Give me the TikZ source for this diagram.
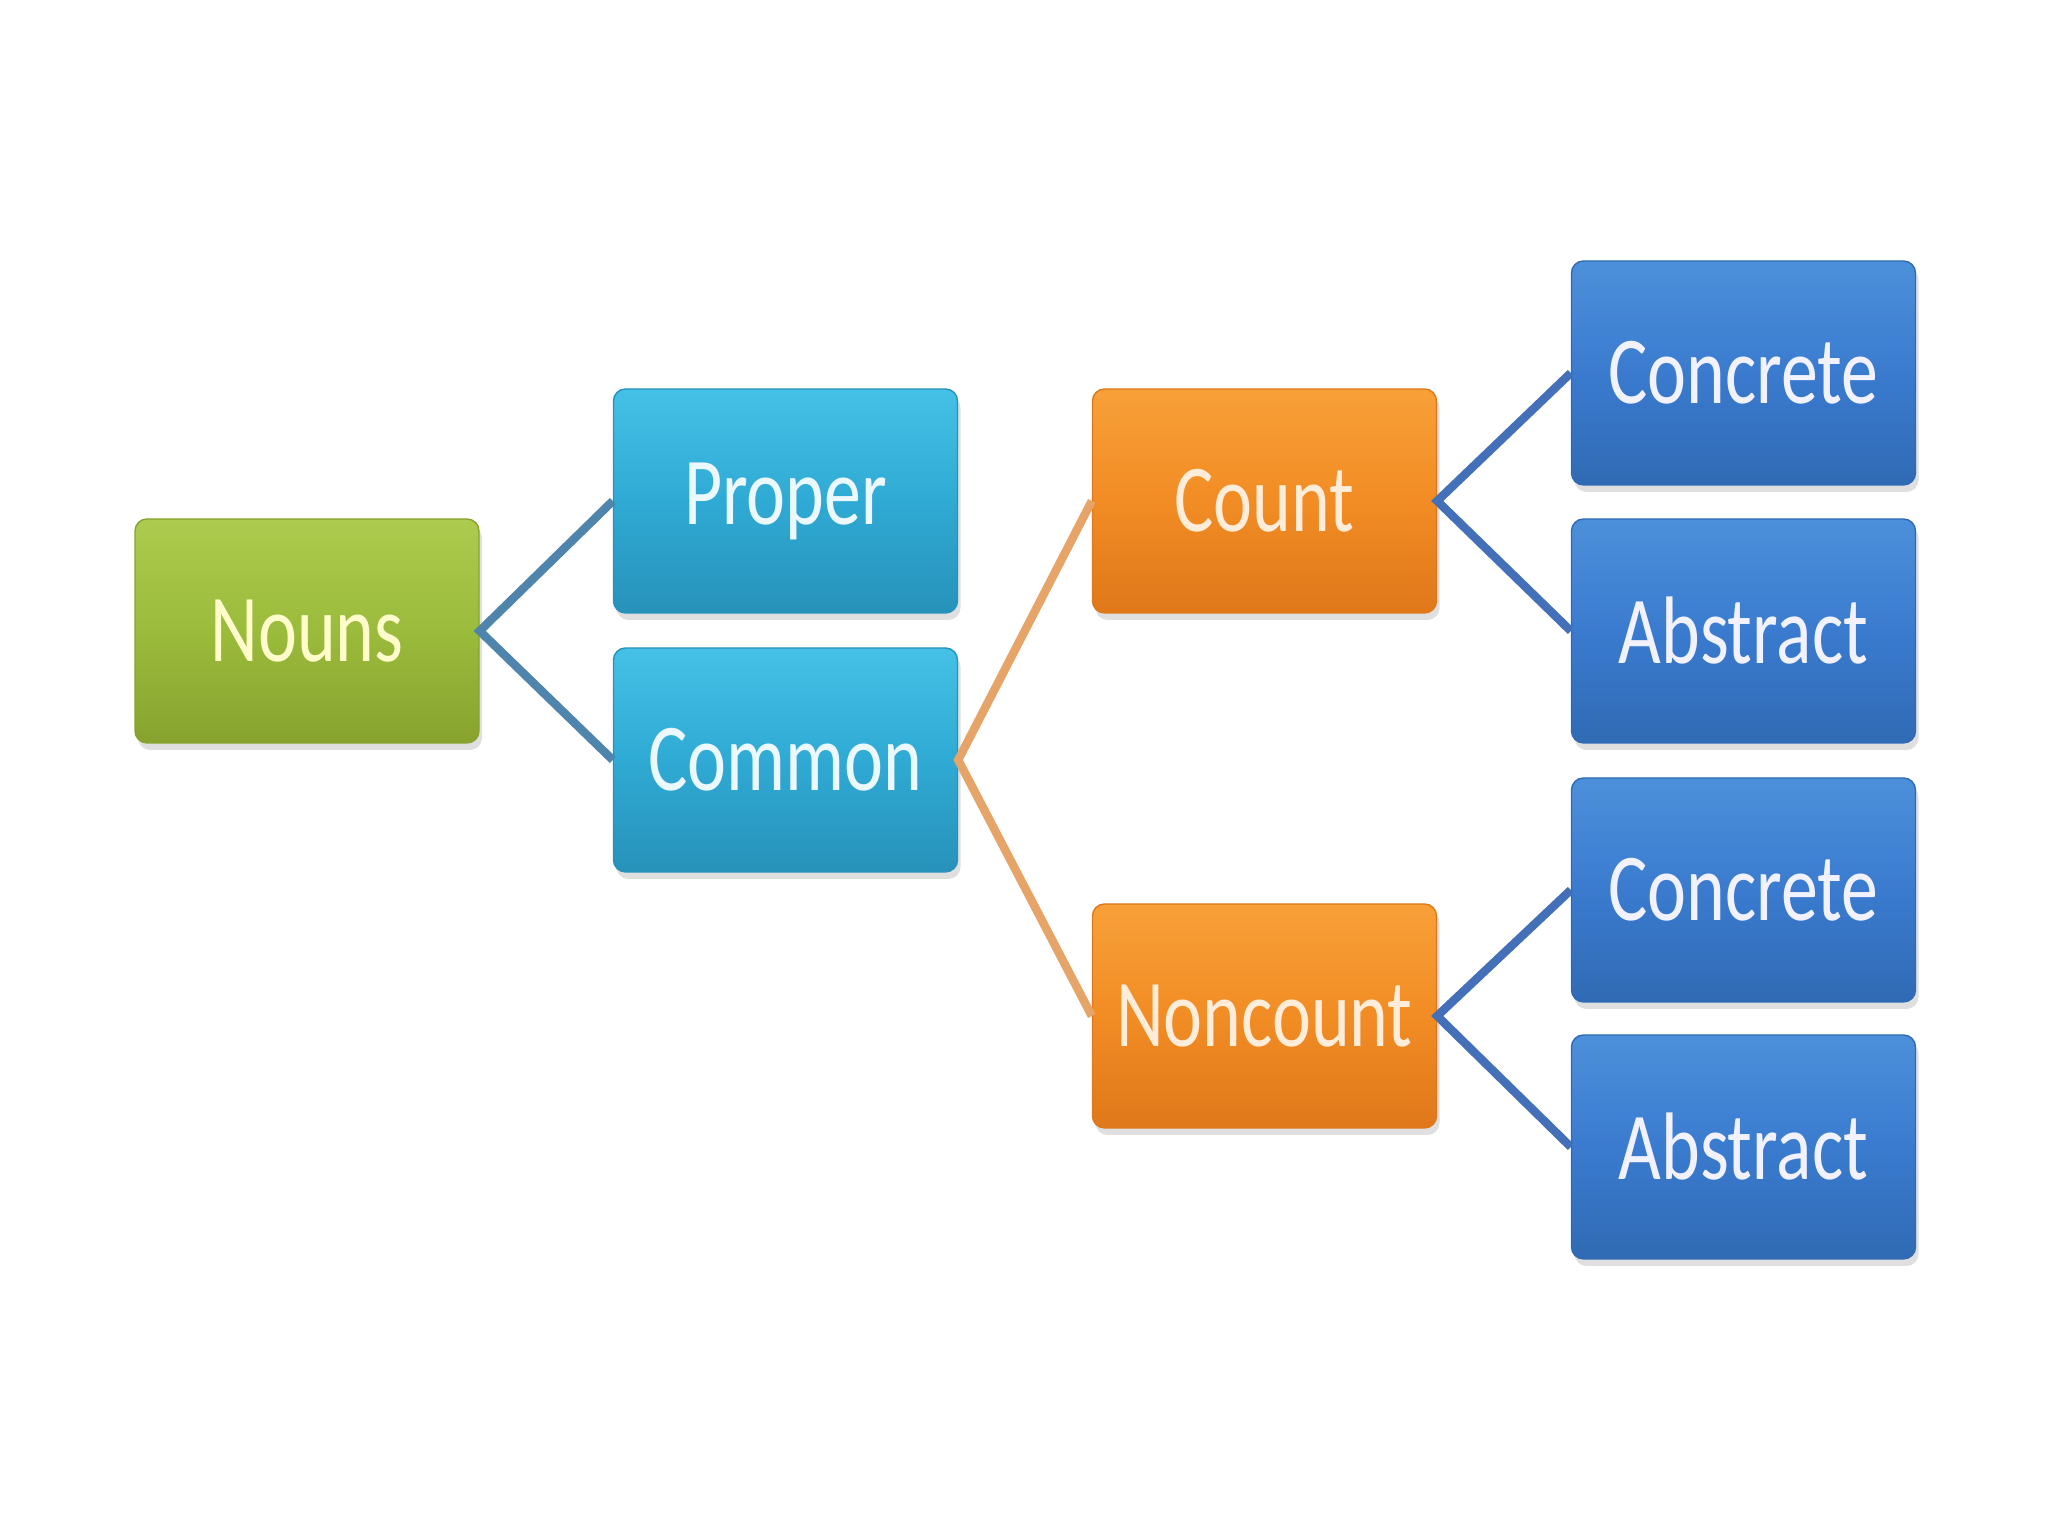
\documentclass[tikz,border=0pt]{standalone}
\usepackage{fontspec}
\setmainfont{Carlito}
\usetikzlibrary{shadows}

\definecolor{verde}{HTML}{9BBB3C}
\definecolor{verdeclaro}{HTML}{ADCB4E}
\definecolor{verdeescuro}{HTML}{87A32E}
\definecolor{ciano}{HTML}{2FAAD4}
\definecolor{cianoclaro}{HTML}{45C0E6}
\definecolor{cianoescuro}{HTML}{2792BA}
\definecolor{laranja}{HTML}{F28C24}
\definecolor{laranjaclaro}{HTML}{F8A038}
\definecolor{laranjaescuro}{HTML}{DE781A}
\definecolor{azul}{HTML}{3A7BCF}
\definecolor{azulclaro}{HTML}{4C90DA}
\definecolor{azulescuro}{HTML}{306AB4}
\definecolor{linhaazul}{HTML}{4F84AC}
\definecolor{linhalaranja}{HTML}{E6A468}

\newcommand{\rotulo}[1]{\scalebox{1}[1.3]{#1}}

\tikzset{
  caixa/.style={rectangle, rounded corners=0.12cm, minimum width=3.44cm,
    minimum height=2.24cm, inner sep=0pt, font=\fontsize{21}{24}\selectfont,
    drop shadow={shadow xshift=0.03cm, shadow yshift=-0.07cm, opacity=0.25}},
  caixaverde/.style={caixa, top color=verdeclaro, bottom color=verdeescuro,
    middle color=verde, draw=verdeescuro, text=yellow!20},
  caixaciano/.style={caixa, top color=cianoclaro, bottom color=cianoescuro,
    middle color=ciano, draw=cianoescuro, text=cyan!8},
  caixalaranja/.style={caixa, top color=laranjaclaro, bottom color=laranjaescuro,
    middle color=laranja, draw=laranjaescuro, text=orange!15},
  caixaazul/.style={caixa, top color=azulclaro, bottom color=azulescuro,
    middle color=azul, draw=azulescuro, text=blue!5},
  ligacao/.style={line width=2.4pt}
}

\begin{document}
\begin{tikzpicture}

  % Fundo
  \fill[white] (0,0) rectangle (20.48,15.36);
  \useasboundingbox (0,0) rectangle (20.48,15.36);

  % Raiz
  \node[caixaverde] (nouns) at (3.07,9.05) {\rotulo{Nouns}};

  % Segundo nível
  \node[caixaciano] (proper) at (7.855,10.35) {\rotulo{Proper}};
  \node[caixaciano] (common) at (7.855,7.76) {\rotulo{Common}};

  % Terceiro nível
  \node[caixalaranja] (count) at (12.645,10.35) {\rotulo{Count}};
  \node[caixalaranja] (noncount) at (12.645,5.20) {\rotulo{Noncount}};

  % Folhas
  \node[caixaazul] (concreteA) at (17.435,11.63) {\rotulo{Concrete}};
  \node[caixaazul] (abstractA) at (17.435,9.05) {\rotulo{Abstract}};
  \node[caixaazul] (concreteB) at (17.435,6.46) {\rotulo{Concrete}};
  \node[caixaazul] (abstractB) at (17.435,3.89) {\rotulo{Abstract}};

  % Ligações
  \draw[ligacao, linhaazul] (proper.west) -- (nouns.east) -- (common.west);
  \draw[ligacao, linhalaranja] (count.west) -- (common.east) -- (noncount.west);
  \draw[ligacao, linhaazul!85!blue] (concreteA.west) -- (count.east) -- (abstractA.west);
  \draw[ligacao, linhaazul!85!blue] (concreteB.west) -- (noncount.east) -- (abstractB.west);

\end{tikzpicture}
\end{document}
